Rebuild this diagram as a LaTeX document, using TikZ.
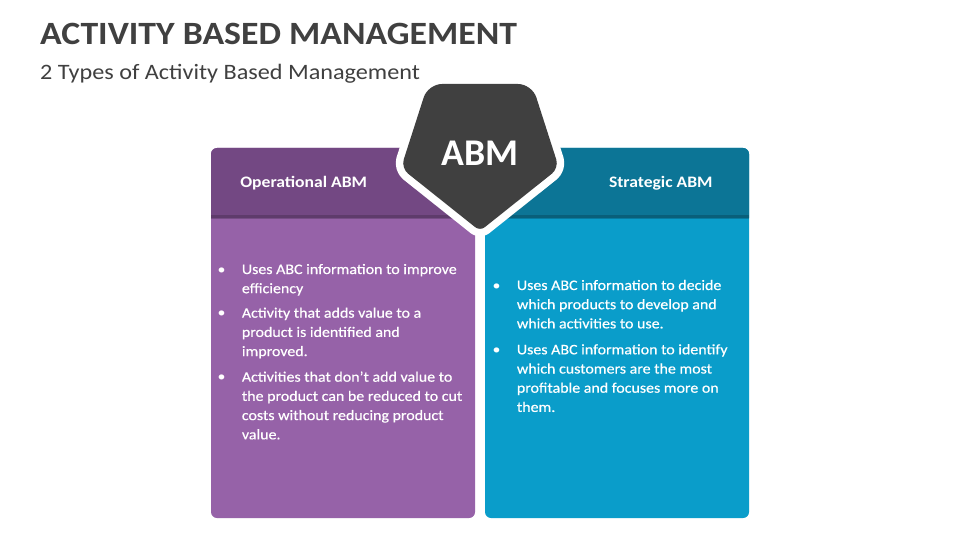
\documentclass[tikz,border=0pt]{standalone}
\usepackage{fontspec}
\setmainfont{Carlito}[FakeStretch=1.1]
\newfontfamily\abmfont{Carlito}
\newfontfamily\bodyfont{Carlito}[FakeStretch=1.1,FakeBold=0.5]
\definecolor{titlegray}{HTML}{404040}
\definecolor{pentdark}{HTML}{404040}
\definecolor{purpleHead}{HTML}{734883}
\definecolor{purpleBody}{HTML}{9662A8}
\definecolor{tealHead}{HTML}{0C7596}
\definecolor{tealBody}{HTML}{0A9DCA}
\newcommand\abmlines[1]{\vtop{\baselineskip=19.2pt\halign{##\hfil\cr#1\crcr}}}
\tikzset{
  bodytext/.style={anchor=base west, inner sep=0pt, text=white, font=\bodyfont\fontsize{14.5}{19.2}\selectfont},
  bulletmark/.style={anchor=base, inner sep=0pt, text=white, font=\fontsize{14.5}{19.2}\selectfont},
  headtext/.style={anchor=base, inner sep=0pt, text=white, font=\fontsize{16}{19}\selectfont\bfseries},
  headshadow/.style={fill=black, fill opacity=0.18}
}
\begin{document}
\begin{tikzpicture}[x=1pt,y=-1pt]
\useasboundingbox[fill=white] (0,0) rectangle (960,540);

% title
\node[anchor=base west, inner sep=0pt, text=titlegray, font=\fontsize{32.5}{36}\selectfont\bfseries] (title) at (40,44.3) {ACTIVITY BASED MANAGEMENT};
\node[anchor=base west, inner sep=0pt, text=titlegray, font=\fontsize{22}{26}\selectfont] (subtitle) at (40,80) {2 Types of Activity Based Management};

% left panel
\fill[purpleBody, rounded corners=6] (211,148) rectangle (475,518);
\fill[purpleHead] (211,218) [rounded corners=6] -- (211,148) -- (475,148) [sharp corners] -- (475,218) -- cycle;
\fill[headshadow] (211,215) rectangle (475,219);

% right panel
\fill[tealBody, rounded corners=6] (485,148) rectangle (749,518);
\fill[tealHead] (485,218) [rounded corners=6] -- (485,148) -- (749,148) [sharp corners] -- (749,218) -- cycle;
\fill[headshadow] (485,215) rectangle (749,219);

% pentagon
\coordinate (pTL) at (428,84);
\coordinate (pTR) at (532,84);
\coordinate (pR) at (559,168);
\coordinate (pB) at (480,231);
\coordinate (pL) at (401,168);
\draw[white, line width=15, line join=round] (480,84) [rounded corners=14] -- (pTR) [rounded corners=9] -- (pR) [rounded corners=6] -- (pB) [rounded corners=9] -- (pL) [rounded corners=14] -- (pTL) -- cycle;
\fill[pentdark] (480,84) [rounded corners=14] -- (pTR) [rounded corners=9] -- (pR) [rounded corners=6] -- (pB) [rounded corners=9] -- (pL) [rounded corners=14] -- (pTL) -- cycle;
\node[anchor=base, inner sep=0pt, text=white, font=\abmfont\fontsize{37.7}{40}\selectfont\bfseries] (abm) at (480,166) {ABM};

% headers
\node[headtext] (ophead) at (303.7,187.7) {Operational ABM};
\node[headtext] (sthead) at (660.8,187.7) {Strategic ABM};

% left bullets
\node[bulletmark] (lb1) at (221.7,274) {•};
\node[bodytext] (lt1) at (241.7,274) {\abmlines{Uses ABC information to improve\cr efficiency}};
\node[bulletmark] (lb2) at (221.7,317.7) {•};
\node[bodytext] (lt2) at (241.7,317.7) {\abmlines{Activity that adds value to a\cr product is identified and\cr improved.}};
\node[bulletmark] (lb3) at (221.7,381.7) {•};
\node[bodytext] (lt3) at (241.7,381.7) {\abmlines{Activities that don’t add value to\cr the product can be reduced to cut\cr costs without reducing product\cr value.}};

% right bullets
\node[bulletmark] (rb1) at (496.7,290) {•};
\node[bodytext] (rt1) at (516.7,290) {\abmlines{Uses ABC information to decide\cr which products to develop and\cr which activities to use.}};
\node[bulletmark] (rb2) at (496.7,354.3) {•};
\node[bodytext] (rt2) at (516.7,354.3) {\abmlines{Uses ABC information to identify\cr which customers are the most\cr profitable and focuses more on\cr them.}};
\end{tikzpicture}
\end{document}
